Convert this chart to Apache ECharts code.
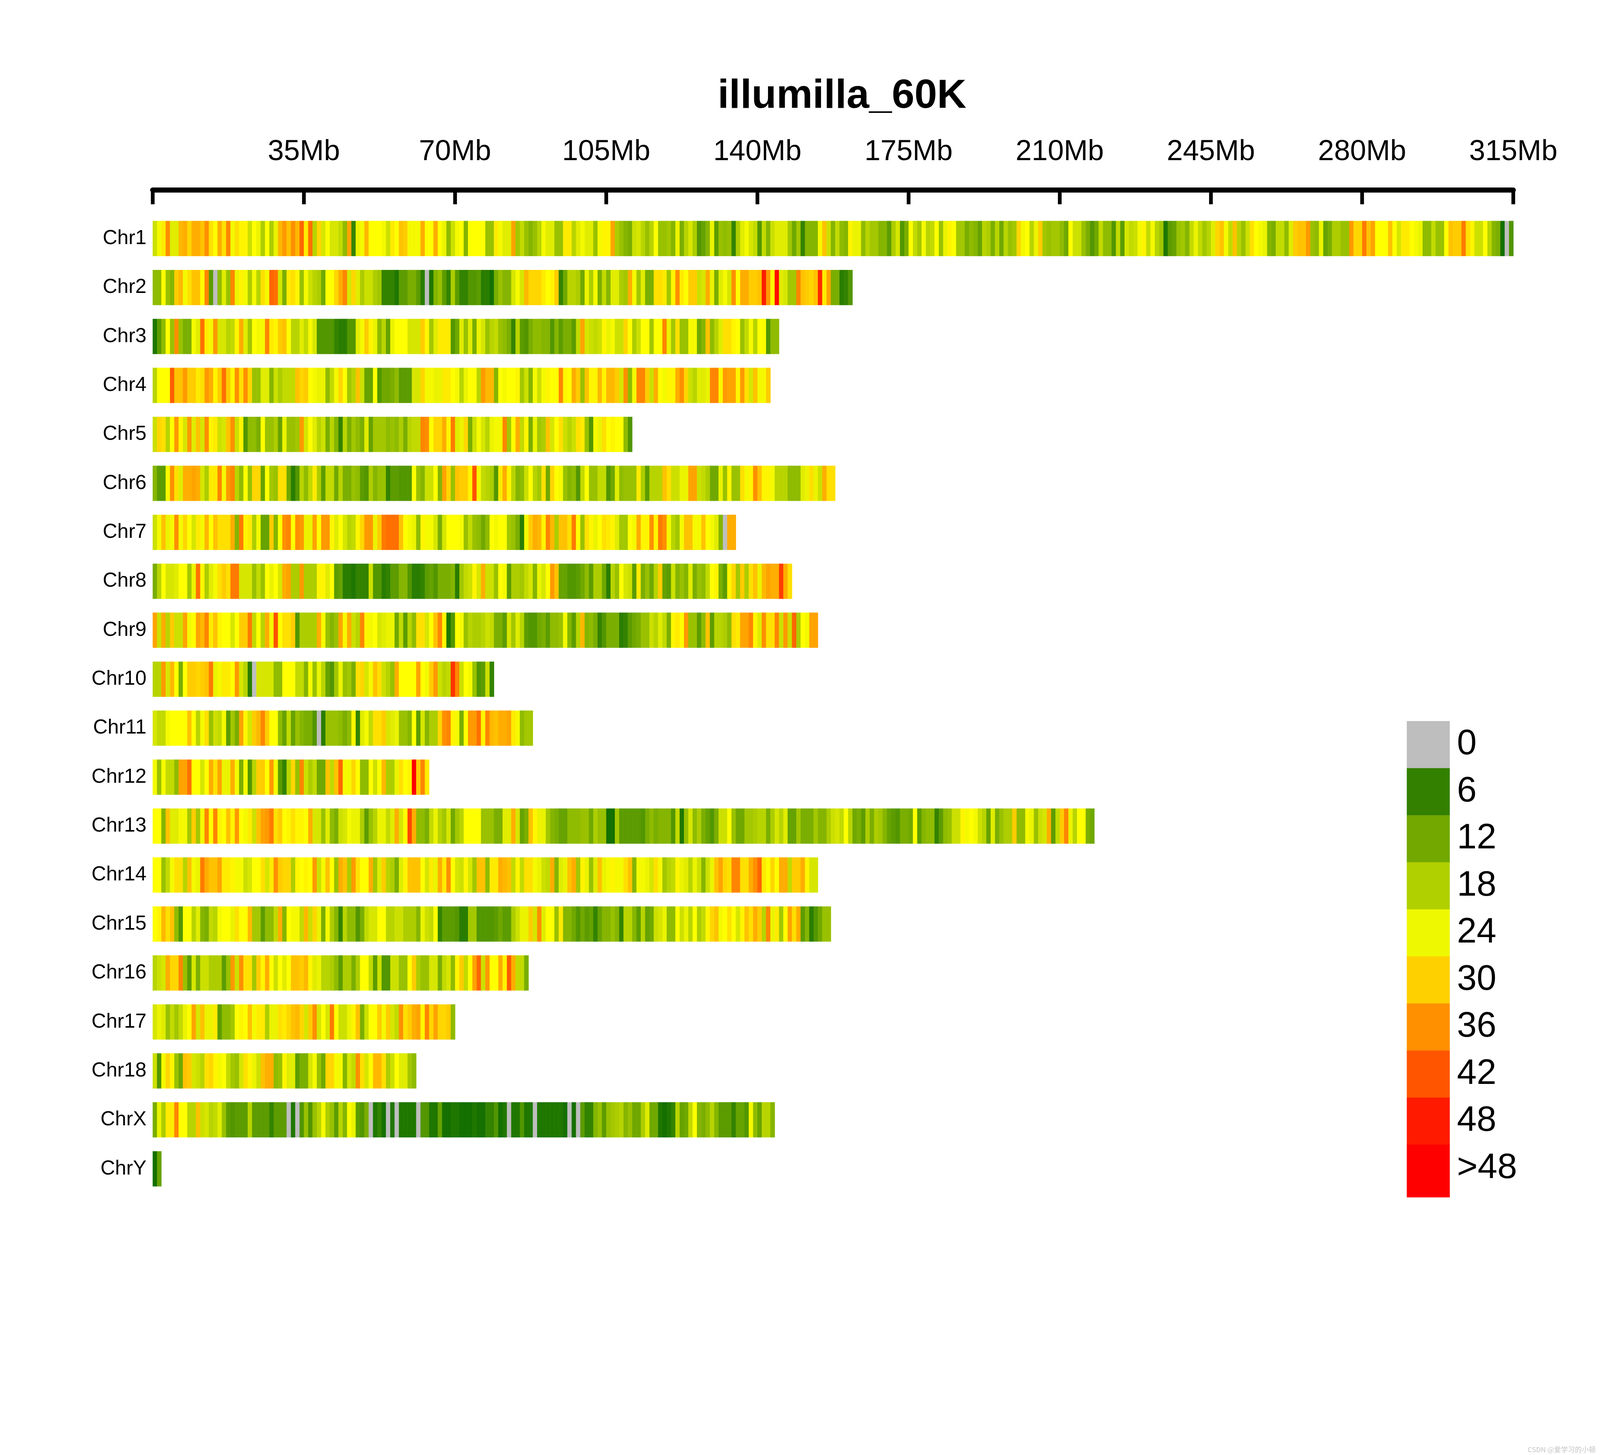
<!DOCTYPE html>
<html><head><meta charset="utf-8">
<style>html,body{margin:0;padding:0;background:#fff;overflow:hidden}#c{width:100vw;height:100vh}</style>
<script src="https://cdn.jsdelivr.net/npm/echarts@6/dist/echarts.min.js"></script>
</head><body><div id="c"></div>
<script>
const chromosomeNames = ['Chr1','Chr2','Chr3','Chr4','Chr5','Chr6','Chr7','Chr8','Chr9','Chr10','Chr11','Chr12','Chr13','Chr14','Chr15','Chr16','Chr17','Chr18','ChrX','ChrY'];
const legendLabels = ['0','6','12','18','24','30','36','42','48','>48'];
const legendColors = ['#bebebe','#338000','#72a800','#b0d000','#eef800','#ffd000','#ff9000','#ff5500','#ff1a00','#ff0000'];
const chartTitle = 'illumilla_60K';

// SNP count in each 1 Mb window
const chr1 = [20,24,27,36,22,22,32,33,29,33,33,31,36,28,25,33,28,37,24,28,26,26,20,25,23,17,25,17,23,32,35,31,36,32,40,27,39,18,29,21,25,21,21,19,14,34,5,23,24,32,25,25,25,24,20,27,25,31,30,24,24,24,33,25,25,33,25,23,14,20,24,
25,13,25,25,25,25,15,15,27,24,22,22,34,16,19,15,13,15,18,24,22,22,15,15,27,27,18,22,24,22,22,15,24,26,26,34,17,15,13,12,20,21,18,15,18,25,15,15,16,13,23,12,18,21,17,8,10,13,23,9,15,14,15,5,17,22,24,21,19,8,19,13,20,22,22,22,16,11,16,5,13,13,13,24,31,20,
13,19,14,13,26,23,23,14,18,16,16,13,13,9,17,21,8,12,25,19,16,24,18,19,25,15,23,26,25,16,16,12,14,13,10,18,17,12,18,11,18,15,16,29,24,25,18,23,30,16,15,16,16,14,11,25,20,20,15,12,8,11,19,14,14,8,19,9,21,19,20,24,26,19,24,18,16,3,9,10,15,16,13,19,23,19,
16,18,22,29,31,24,19,31,18,15,20,28,25,24,23,13,12,19,19,14,22,30,31,31,35,15,14,23,10,12,17,17,15,15,35,29,29,38,31,34,25,25,25,31,25,21,27,27,25,24,23,14,14,19,15,15,25,31,30,30,38,28,26,20,20,25,18,13,12,2,0,8];
const chr2 = [14,14,25,15,13,30,32,24,28,31,31,25,37,9,0,14,22,15,37,23,26,24,17,24,18,28,24,40,39,21,12,27,28,26,15,24,20,18,17,11,25,25,29,33,37,21,29,22,17,20,20,17,16,5,5,5,3,9,9,12,12,9,4,0,3,13,15,9,5,17,9,
5,5,8,8,9,4,4,2,12,15,13,13,21,24,21,32,29,29,29,27,25,26,30,5,11,18,18,17,11,23,17,24,12,19,13,22,22,17,16,33,24,16,22,12,12,28,28,27,16,26,36,27,25,30,30,20,21,33,23,12,22,24,21,36,25,33,33,30,30,31,47,35,26,49,22,21,16,16,37,31,30,29,31,46,27,34,
12,12,4,5,8];
const chr3 = [3,9,14,25,15,36,15,12,12,24,22,39,27,24,35,21,21,18,19,26,33,22,16,25,24,24,37,27,26,30,31,25,18,18,22,19,24,21,8,8,8,8,5,4,4,8,8,22,24,30,26,23,14,18,10,23,25,25,25,21,21,21,30,26,16,22,27,27,27,8,11,
22,15,22,12,23,21,15,18,19,15,14,12,5,18,9,8,12,14,14,13,13,8,13,9,12,12,9,19,34,21,20,19,20,26,23,24,20,20,29,25,17,20,25,25,16,25,25,37,23,16,28,15,15,24,24,11,13,31,14,18,22,28,28,26,25,15,19,24,18,25,25,8,14,14];
const chr4 = [18,25,25,25,41,31,31,35,30,30,27,28,35,33,26,30,39,30,26,36,28,36,29,15,15,22,22,13,20,17,19,19,19,31,29,30,25,24,23,23,14,19,24,29,25,16,18,31,20,10,10,25,8,11,11,12,14,9,9,9,21,21,29,24,24,23,23,27,27,25,24,
18,23,25,25,18,35,32,32,13,25,24,25,25,26,16,20,13,24,20,24,26,25,25,37,26,25,33,30,15,31,26,26,32,26,32,32,30,21,36,14,24,37,37,30,20,33,25,24,26,26,33,36,29,20,18,22,22,23,37,37,26,35,34,34,26,35,28,21,31,24,24,30];
const chr5 = [20,29,28,18,25,35,26,21,35,22,31,21,36,26,27,20,21,31,36,20,26,8,14,14,12,25,15,15,17,10,23,15,15,16,35,21,25,22,18,20,12,18,13,5,18,12,16,14,12,22,10,16,16,16,14,15,14,17,12,18,19,19,37,36,25,29,29,33,26,38,22,23,29,12,20,24,21,18,23,24,24,37,16,25,33,19,
26,12,23,16,17,31,21,25,28,20,18,20,28,27,15,8,24,23,28,25,26,25,25,14,8];
const chr6 = [13,9,9,24,36,28,22,33,33,34,33,21,17,27,27,37,24,35,37,18,14,25,15,29,29,10,25,16,15,28,28,11,4,8,18,14,19,27,17,9,19,19,11,18,12,12,15,14,9,8,17,13,15,15,5,9,9,8,8,8,25,15,13,20,20,25,13,34,29,15,31,30,30,26,42,24,19,18,17,8,27,33,26,18,13,14,
20,25,18,16,28,11,29,25,24,15,13,14,8,19,25,15,15,19,19,8,11,22,14,15,15,15,27,17,9,18,18,18,31,28,20,20,23,23,34,34,20,19,17,11,11,23,15,26,15,15,28,24,26,36,31,26,26,24,18,18,18,14,14,14,22,23,28,23,20,33,28,28];
const chr7 = [20,24,31,23,24,36,24,29,25,21,27,24,32,25,31,28,28,28,33,13,38,26,27,17,24,10,10,30,13,25,36,37,25,36,35,23,23,34,25,35,35,26,22,25,21,18,19,26,29,35,35,23,30,38,39,39,39,31,25,24,23,14,26,24,24,21,12,21,25,25,25,24,15,19,15,14,11,14,25,24,25,25,16,15,12,4,
24,30,33,32,26,37,32,17,31,31,28,38,25,15,28,26,23,25,28,27,26,22,16,16,25,24,33,26,26,36,26,38,36,24,18,16,24,31,31,24,24,31,25,24,22,13,0,33,33];
const chr8 = [12,18,25,21,21,22,25,25,16,23,39,26,17,22,24,28,30,28,38,38,21,21,21,15,19,15,25,23,25,21,33,34,17,17,35,17,17,17,26,26,22,25,9,10,4,4,3,5,5,5,20,8,8,4,5,9,9,13,13,8,4,4,5,9,10,8,12,12,12,13,4,16,19,20,26,21,33,20,20,15,25,24,9,17,17,16,
19,21,13,23,21,25,35,31,10,10,8,8,9,11,14,9,17,17,11,4,18,15,25,21,20,9,27,12,15,11,18,30,10,9,20,13,15,13,22,12,15,14,19,25,26,12,9,26,29,16,30,17,28,31,23,32,34,33,33,44,33,28];
const chr9 = [34,20,33,18,30,20,20,34,24,25,34,32,37,27,31,26,25,25,21,25,30,30,38,19,25,18,33,24,42,25,28,28,30,8,17,17,17,17,33,24,15,13,15,34,24,33,20,18,37,26,24,25,21,22,23,23,11,19,9,18,14,28,28,21,25,31,37,26,3,8,25,24,15,18,17,17,18,20,19,12,12,9,21,16,22,18,
9,8,8,11,12,9,14,14,15,24,13,9,18,32,13,14,12,5,8,12,12,12,4,5,9,11,12,15,15,20,18,22,19,12,26,27,25,35,15,15,9,14,31,9,18,18,17,14,28,27,34,34,37,26,22,36,28,28,37,20,35,20,40,17,25,24,34,34];
const chr10 = [18,18,35,21,32,25,12,25,30,30,29,30,31,38,23,24,27,27,25,35,21,18,4,0,21,21,21,21,14,14,25,25,25,19,19,13,24,15,23,18,10,8,16,23,15,16,12,28,29,21,24,31,28,20,18,15,33,25,25,25,25,34,25,24,30,35,20,18,19,45,37,20,25,24,15,8,9,20,5];
const chr11 = [21,19,19,24,25,25,25,25,31,25,18,24,28,15,20,19,24,9,16,12,34,26,21,30,32,37,30,25,25,14,10,19,10,15,13,12,12,8,0,4,15,15,15,14,12,14,26,5,22,24,19,28,28,30,21,22,23,15,15,13,25,9,21,13,17,17,29,36,37,26,24,12,25,35,35,39,26,37,32,31,33,33,34,27,24,14,16,16];
const chr12 = [24,15,24,19,19,14,34,34,39,25,25,21,25,33,28,34,23,23,33,24,12,24,8,18,30,30,25,35,24,9,5,18,29,15,37,20,17,19,11,11,31,19,31,40,24,24,29,25,14,14,25,20,25,32,17,17,23,28,25,26,50,30,37,27];
const chr13 = [25,25,13,31,22,22,24,24,16,30,16,24,37,25,37,26,25,31,26,35,25,24,27,20,31,34,35,38,28,30,25,26,28,26,26,25,33,21,21,15,22,14,12,20,21,24,23,23,17,9,15,18,23,23,19,22,33,21,25,43,33,14,14,12,19,23,18,16,21,11,16,18,25,25,25,25,15,15,15,12,12,22,22,33,21,10,
12,31,26,23,23,16,13,12,10,10,14,14,14,15,15,11,17,15,15,2,2,16,9,9,9,9,9,8,12,14,12,13,13,13,8,19,3,15,21,14,17,12,10,8,12,20,20,25,15,11,11,16,16,17,18,18,12,17,21,18,22,10,10,16,12,12,12,16,13,13,17,20,21,19,25,18,11,12,9,17,12,17,16,13,10,9,8,
12,12,11,25,9,13,14,14,5,9,14,15,20,20,26,24,25,24,20,18,10,22,12,15,17,17,30,14,14,24,23,15,20,21,33,9,19,30,37,23,18,25,25,12,11];
const chr14 = [25,25,15,19,24,28,28,18,31,24,23,38,33,31,31,34,27,27,26,24,24,20,21,25,25,28,21,27,36,30,29,29,17,26,25,26,25,35,20,24,31,25,15,33,31,17,35,28,25,25,33,16,22,30,18,17,12,22,26,31,31,31,25,21,27,23,33,27,36,25,21,20,26,21,16,31,31,14,27,27,33,32,31,19,26,19,
28,28,24,23,20,19,33,13,22,23,31,33,16,26,23,15,22,31,23,24,26,24,24,28,31,13,24,24,23,21,28,24,16,18,19,26,23,22,18,23,20,13,20,23,31,34,29,28,37,37,28,28,33,36,40,27,25,29,25,33,33,19,30,30,33,26,21,21];
const chr15 = [25,26,32,28,31,14,8,25,25,18,22,13,12,19,18,24,25,25,23,28,25,25,32,16,16,9,14,14,19,33,13,25,24,24,19,32,20,29,23,12,24,17,13,5,18,14,14,8,12,19,21,21,25,25,18,18,20,20,17,17,17,13,23,20,19,25,5,9,9,9,8,4,4,16,16,8,8,8,8,9,11,9,9,17,20,23,
23,30,21,36,22,25,25,15,27,13,13,11,8,11,9,10,5,10,13,13,15,13,5,18,18,13,9,18,10,11,20,21,23,14,14,25,20,23,18,25,17,19,26,29,31,24,25,28,25,21,26,31,28,33,30,18,37,23,27,16,25,34,28,33,9,13,4,8,11,15,15];
const chr16 = [18,20,21,33,29,29,37,15,9,21,12,20,20,17,17,17,9,15,35,20,36,28,28,16,30,26,33,25,20,25,22,25,31,31,30,32,26,22,23,18,18,17,14,9,17,17,12,17,25,25,19,9,20,8,8,20,20,15,15,25,30,17,15,15,21,21,12,19,21,14,26,30,19,25,34,40,20,35,25,25,33,26,41,33,19,19,12];
const chr17 = [21,23,22,15,19,16,19,23,25,34,21,31,23,23,27,9,14,14,16,25,26,25,31,24,27,27,17,23,23,28,27,29,31,32,29,21,30,36,21,25,21,38,25,20,20,23,26,31,12,20,25,25,30,24,30,21,19,36,28,30,33,34,26,37,29,34,29,29,30,14];
const chr18 = [20,8,24,29,26,15,11,31,30,21,20,18,28,29,26,24,25,19,16,15,21,28,26,23,20,31,33,33,14,15,26,22,22,9,12,12,21,24,15,11,29,29,24,24,13,21,19,36,28,21,25,32,32,28,17,20,25,22,22,16,14];
const chrX = [12,23,17,27,27,37,25,25,18,18,31,20,21,18,19,22,15,9,8,9,9,9,18,9,9,9,9,5,9,9,9,0,3,0,8,15,8,15,18,24,17,15,9,18,13,25,23,9,8,12,0,3,5,2,0,3,0,3,3,3,3,0,8,8,3,3,10,2,2,3,3,2,2,2,3,2,2,5,5,8,2,3,0,3,3,8,
3,3,0,3,3,3,3,3,3,2,0,2,0,9,5,5,13,15,9,15,16,17,18,13,15,11,11,17,22,11,11,3,2,3,5,18,10,11,19,25,13,12,14,18,13,9,9,9,5,10,10,8,24,14,10,18,18,13];
const chrY = [2,10];

const chromosomes = [chr1,chr2,chr3,chr4,chr5,chr6,chr7,chr8,chr9,chr10,chr11,chr12,chr13,chr14,chr15,chr16,chr17,chr18,chrX,chrY];
const windowCells = [];
chromosomes.forEach((vals, c) => vals.forEach((v, i) => windowCells.push([i, i + 1, c, v])));

const FONT = '"Liberation Sans", Arial, sans-serif';
const host = document.getElementById('c');
const chart = echarts.init(host, null, {renderer:'canvas'});
// the layout is measured on the 5167x3725 reference and follows the real window
const sx = chart.getWidth() / 5167, sy = chart.getHeight() / 3725, fs = Math.sqrt(sx * sy);
chart.setOption({
  animation:false,
  backgroundColor:'#fff',
  title:[
    {text:chartTitle, left:2713*sx, top:190*sy, textAlign:'center', textStyle:{fontFamily:FONT, fontSize:117*fs, fontWeight:'bold', color:'#000'}},
    {text:'CSDN @爱学习的小顿', right:6, bottom:0, textStyle:{fontFamily:'"Noto Sans CJK SC", sans-serif', fontSize:20*fs, fontWeight:'normal', color:'#c4c4c4'}}
  ],
  grid:[
    {left:493*sx, top:548*sy, width:4394*sx, height:2507*sy, containLabel:false},
    {left:4543*sx, top:1846*sy, width:139*sx, height:1205*sy, containLabel:false}
  ],
  xAxis:[
    {gridIndex:0, type:'value', position:'top', offset:62*sy, min:0, max:315, interval:35,
     axisLine:{show:true, onZero:false, lineStyle:{color:'#000', width:13*sy}},
     axisTick:{show:true, inside:true, length:37*sy, lineStyle:{color:'#000', width:12*sx}},
     axisLabel:{show:true, margin:59*sy, color:'#000', fontFamily:FONT, fontSize:83*fs,
       formatter:v => v === 0 ? '' : v + 'Mb'},
     splitLine:{show:false}},
    {gridIndex:1, type:'value', min:0, max:1, show:false}
  ],
  yAxis:[
    {gridIndex:0, type:'category', inverse:true, data:chromosomeNames,
     axisLine:{show:false}, axisTick:{show:false}, splitLine:{show:false},
     axisLabel:{show:true, interval:0, margin:20*sx, color:'#000', fontFamily:FONT, fontSize:58*fs}},
    {gridIndex:1, type:'category', inverse:true, position:'right', data:legendLabels,
     axisLine:{show:false}, axisTick:{show:false}, splitLine:{show:false},
     axisLabel:{show:true, interval:0, margin:23*sx, color:'#000', fontFamily:FONT, fontSize:102*fs}}
  ],
  visualMap:{type:'continuous', show:false, seriesIndex:0, dimension:3, min:0, max:50,
    inRange:{color:['#006400','#ffff00','#ff0000']}},
  series:[
    {type:'custom', coordinateSystem:'cartesian2d', xAxisIndex:0, yAxisIndex:0, progressive:0, silent:true,
     encode:{x:[0,1], y:2}, data:windowCells,
     renderItem:(params, api) => {
       const a = api.coord([api.value(0), api.value(2)]);
       const b = api.coord([api.value(1), api.value(2)]);
       const h = api.size([0,1])[1] * 0.72;
       const v = api.value(3);
       return {type:'rect', shape:{x:a[0], y:a[1]-h/2, width:b[0]-a[0]+0.6, height:h},
         style:{fill: v === 0 ? legendColors[0] : api.visual('color')}};
     }},
    {type:'custom', coordinateSystem:'cartesian2d', xAxisIndex:1, yAxisIndex:1, silent:true,
     encode:{x:0, y:1}, data:legendLabels.map((l,i)=>[0,i]),
     renderItem:(params, api) => {
       const p = api.coord([0, api.value(1)]);
       const s = api.size([1,1]);
       const last = params.dataIndex === legendLabels.length - 1;
       const top = p[1] - s[1]/2;
       return {type:'rect', shape:{x:p[0], y:top, width:s[0], height:last ? s[1]*1.12 : s[1]+0.6},
         style:{fill:legendColors[params.dataIndex]}};
     }}
  ]
});
</script></body></html>
